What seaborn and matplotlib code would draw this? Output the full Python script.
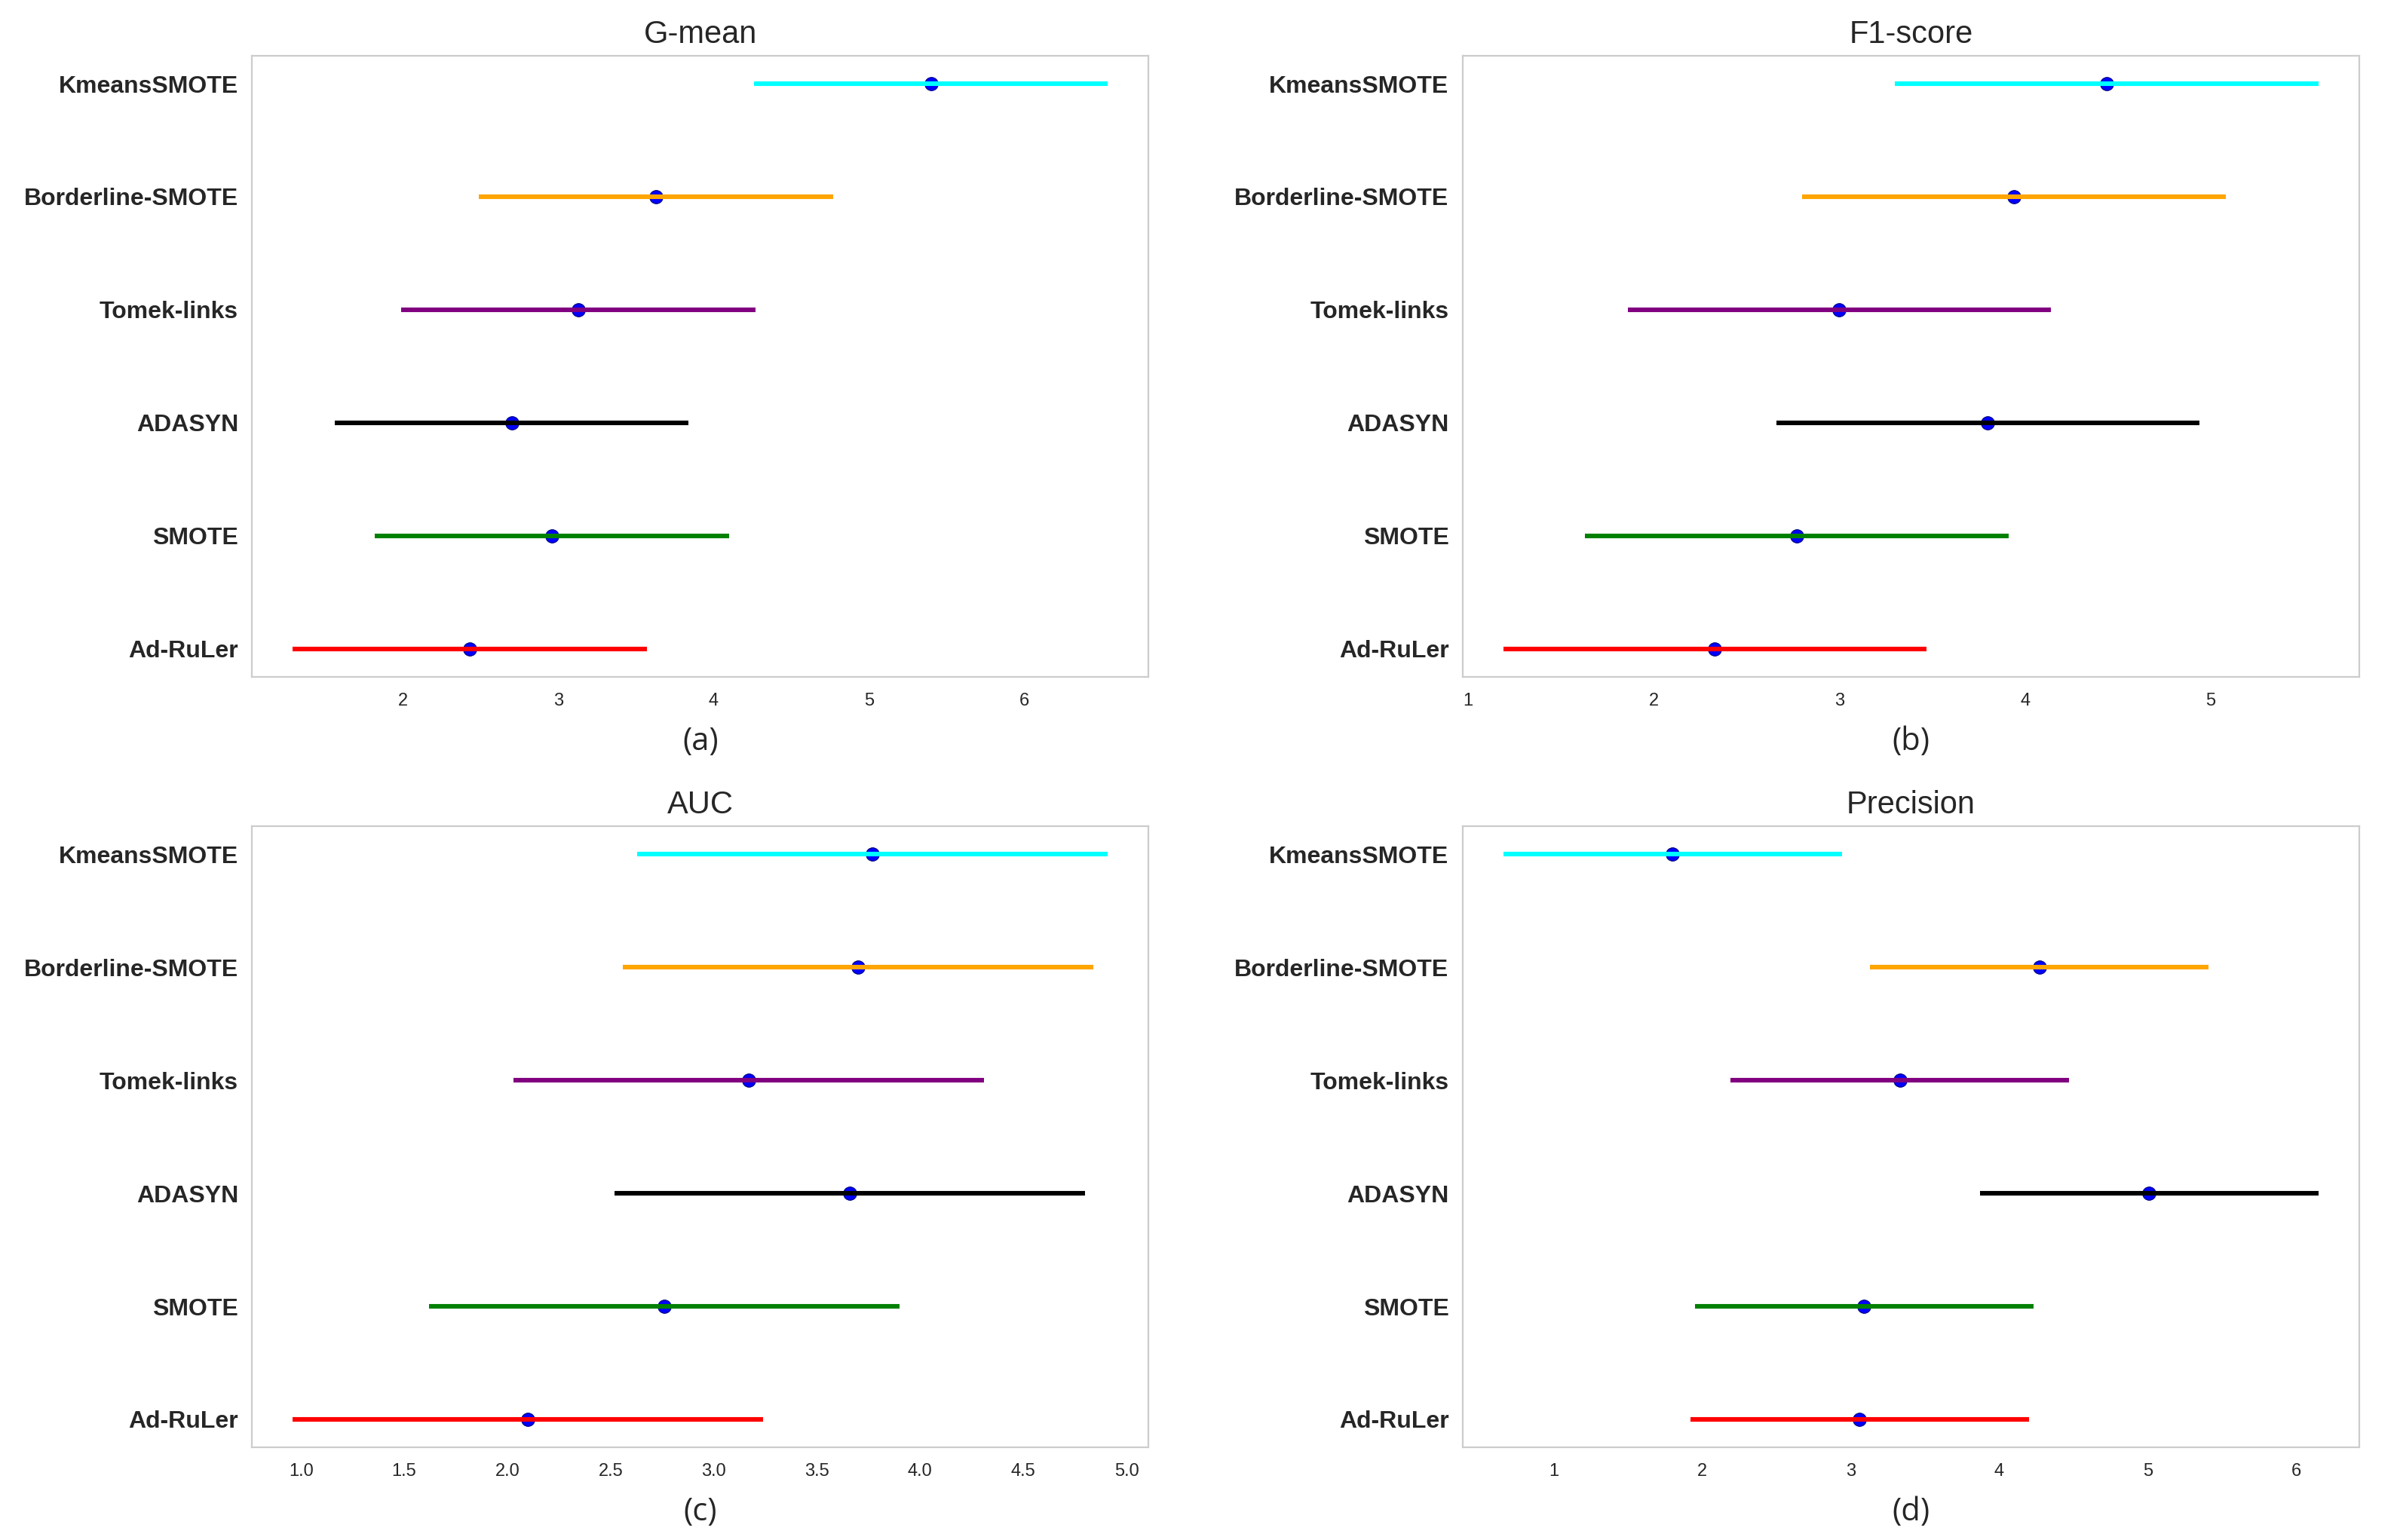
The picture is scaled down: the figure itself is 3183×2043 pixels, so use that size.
import numpy as np
import pandas as pd
import matplotlib.pyplot as plt
import seaborn as sns

methods = ["Ad-RuLer", "SMOTE", "ADASYN", "Tomek-links", "Borderline-SMOTE", "KmeansSMOTE"]
line_colors = ["red", "green", "black", "purple", "orange", "cyan"]

gmean = [2.43, 2.96, 2.70, 3.13, 3.63, 5.40]
f1_score = [2.33, 2.77, 3.80, 3.00, 3.94, 4.44]
auc = [2.10, 2.76, 3.66, 3.17, 3.70, 3.77]
precision = [3.06, 3.09, 5.01, 3.33, 4.27, 1.80]

# half of the critical difference, same for every metric
cd_half = 1.14

panels = [
    ("G-mean", gmean, "(a)"),
    ("F1-score", f1_score, "(b)"),
    ("AUC", auc, "(c)"),
    ("Precision", precision, "(d)"),
]

sns.set_theme(style="whitegrid")
plt.rcParams["font.family"] = ["Liberation Sans", "DejaVu Sans"]


def plot_panel(ax, title, values, label):

    df = pd.DataFrame({
        "method": methods,
        "score": values,
        "pos": np.arange(len(methods)),
    })

    ax.hlines(
        df["pos"],
        df["score"] - cd_half,
        df["score"] + cd_half,
        colors=line_colors,
        linewidth=2.2,
        zorder=3,
    )

    sns.scatterplot(
        data=df,
        x="score",
        y="pos",
        color="blue",
        edgecolor="#000080",
        linewidth=0.4,
        s=40,
        zorder=2,
        ax=ax,
    )

    ax.grid(False)
    ax.set_yticks(df["pos"])
    ax.set_yticklabels(methods, fontweight="bold", fontsize=11.5)
    ax.tick_params(axis="y", length=0, pad=6.5)
    ax.tick_params(axis="x", length=0, labelsize=8.5, pad=7.5)

    ax.set_title(title, fontsize=15)
    ax.set_xlabel(label, fontsize=15, family=["Open Sans", "DejaVu Sans"], labelpad=8)
    ax.set_ylabel("")

    for spine in ax.spines.values():
        spine.set_linewidth(0.8)
        spine.set_color("#cccccc")


fig, axes = plt.subplots(2, 2, figsize=(15.915, 10.215), dpi=200)
plt.subplots_adjust(left=0.105, right=0.983, top=0.964, bottom=0.06, wspace=0.35, hspace=0.24)

for ax, (title, values, label) in zip(axes.flat, panels):
    plot_panel(ax, title, values, label)

plt.savefig("out.png", dpi=200)
